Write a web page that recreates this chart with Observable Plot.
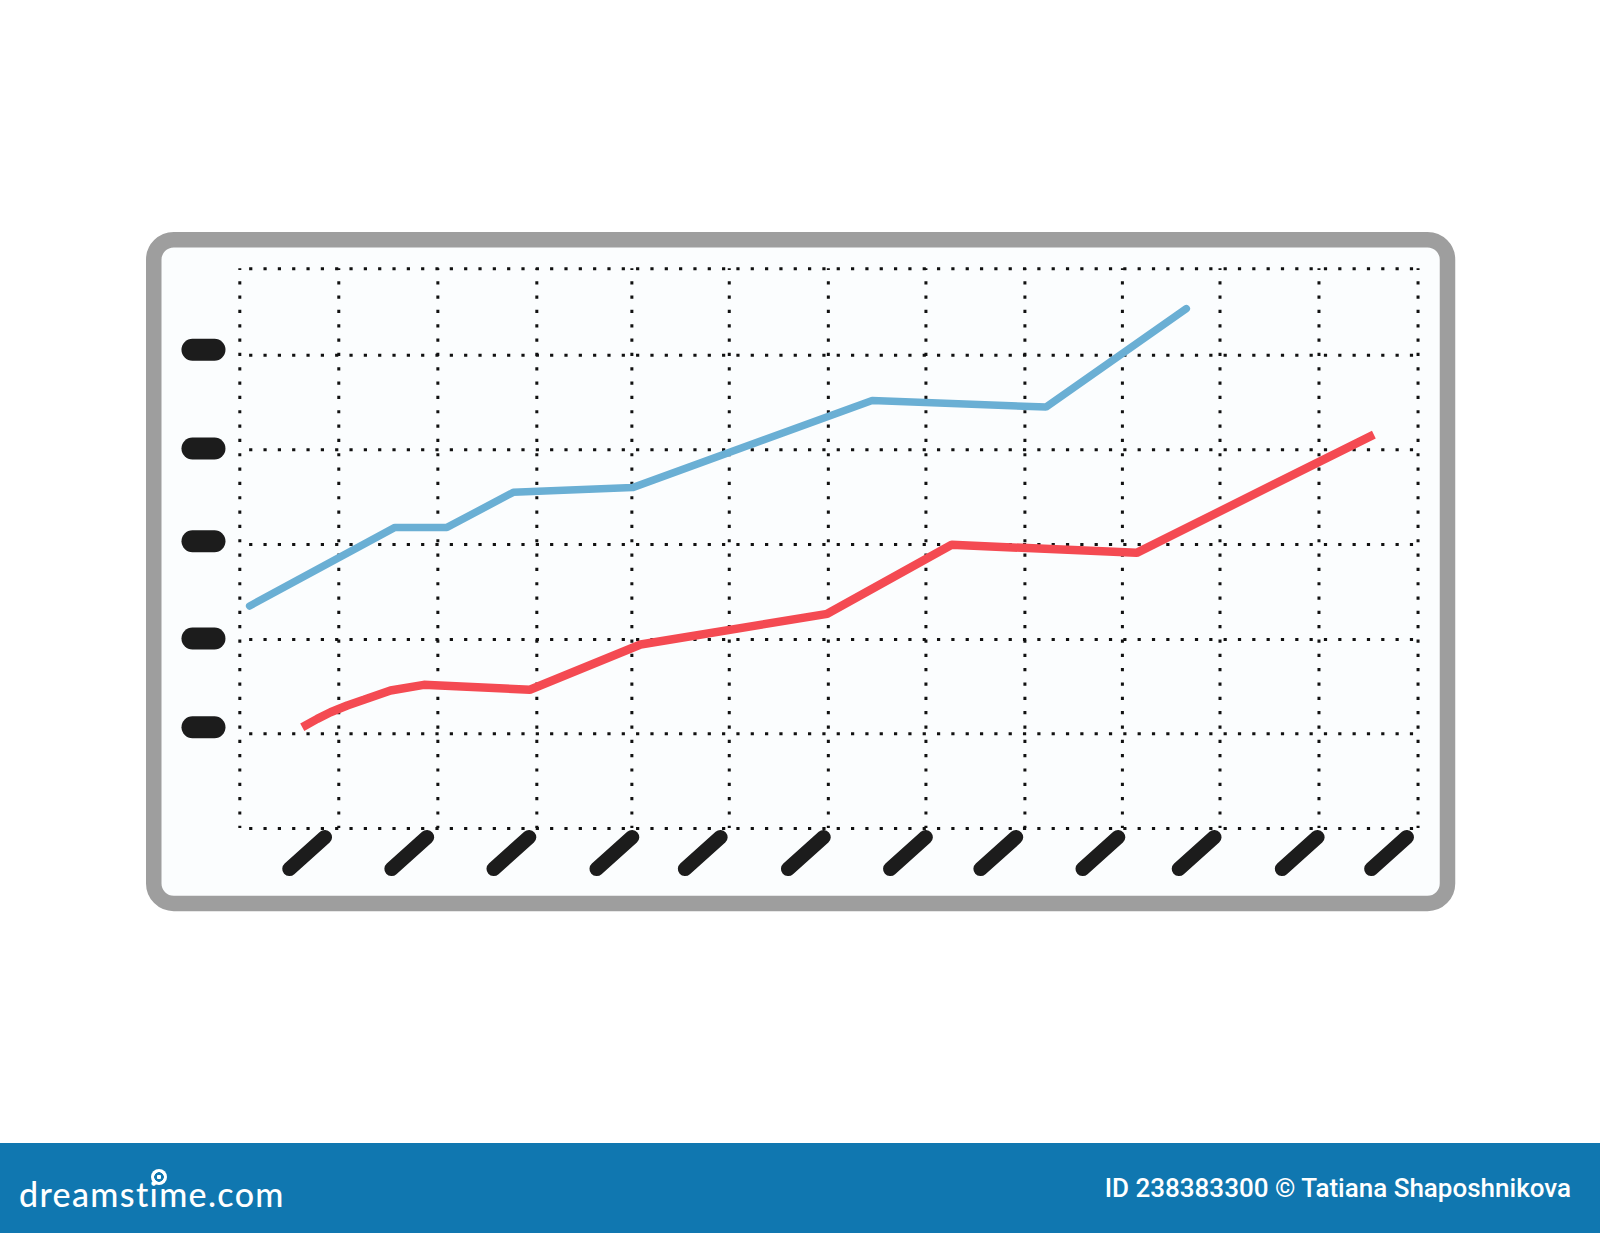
<!DOCTYPE html>
<html>
<head>
<meta charset="utf-8">
<script src="https://cdn.jsdelivr.net/npm/d3@7"></script>
<script src="https://cdn.jsdelivr.net/npm/@observablehq/plot@0.6"></script>
<style>
  html, body { margin: 0; padding: 0; background: #fff; width: 1600px; height: 1233px; overflow: hidden; }
  #chart svg { display: block; }
  #footer { position: relative; width: 1600px; height: 90px; background: #1077b0; color: #fff; }
  #brand { position: absolute; left: 19px; top: 31px; font: 500 34px/40px Lato, sans-serif; letter-spacing: 1.35px; }
  #swirl { position: absolute; left: 151px; top: 26px; width: 16px; height: 16px; border-radius: 50%;
    background: radial-gradient(circle, #fff 0 2px, transparent 2.5px 4.5px, #fff 5px 8px); }
  #credit { position: absolute; right: 29px; top: 29px; font: 500 26px/32px Roboto, sans-serif; }
</style>
</head>
<body>
<div id="chart"></div>
<div id="footer">
  <div id="brand">dreamstime.com</div>
  <div id="swirl"></div>
  <div id="credit">ID 238383300 © Tatiana Shaposhnikova</div>
</div>
<script>
const gridX = [0, 1.008, 2.017, 3.025, 3.993, 4.985, 5.994, 6.988, 7.996, 8.989, 9.983, 10.991, 12];
const gridY = [0, 1, 1.996, 3, 4, 4.998, 5.91];

const blueX = [0.10, 1.58, 2.11, 2.785, 4.00, 6.44, 8.21, 9.64];
const blueY = [2.35, 3.18, 3.18, 3.55, 3.60, 4.52, 4.45, 5.49];

const redX = [0.636, 0.789, 0.924, 1.094, 1.263, 1.535, 1.874, 2.954, 4.082, 5.983, 7.25, 9.134, 11.55];
const redY = [1.07, 1.158, 1.228, 1.299, 1.359, 1.457, 1.517, 1.465, 1.943, 2.267, 2.996, 2.911, 4.16];

const yLabelAt = [1.07, 2.006, 3.033, 4.013, 5.055];
const xLabelAt = [0.686, 1.726, 2.766, 3.815, 4.715, 5.765, 6.805, 7.725, 8.765, 9.745, 10.795, 11.705];

const xDomain = [-0.8765, 12.30];
const yDomain = [-0.792, 6.218];

const blue = blueX.map((x, i) => ({x, y: blueY[i]}));
const red = redX.map((x, i) => ({x, y: redY[i]}));

const dots = {stroke: "#111", strokeWidth: 3, strokeLinecap: "butt", strokeDasharray: "3.2,11.13"};

const plot = Plot.plot({
  width: 1600,
  height: 1143,
  marginLeft: 153.25,
  marginRight: 153,
  marginTop: 239.2,
  marginBottom: 240,
  x: {domain: xDomain, axis: null},
  y: {domain: yDomain, axis: null},
  marks: [
    Plot.frame({fill: "#fbfdfe", stroke: "#9e9e9e", strokeWidth: 15.5, rx: 20}),
    Plot.ruleY(gridY, {x1: gridX[0], x2: gridX[gridX.length - 1], ...dots, strokeDashoffset: 4.5}),
    Plot.ruleX(gridX, {y1: gridY[gridY.length - 1], y2: gridY[0], ...dots, strokeDashoffset: 1.5}),
    Plot.line(blue, {x: "x", y: "y", stroke: "#6aafd4", strokeWidth: 7.5, strokeLinecap: "round", strokeLinejoin: "miter"}),
    Plot.line(red, {x: "x", y: "y", stroke: "#f44a52", strokeWidth: 8.5, strokeLinecap: "butt", strokeLinejoin: "miter"}),
    Plot.link(yLabelAt, {x1: () => -0.482, x2: () => -0.258, y1: d => d, y2: d => d,
      stroke: "#1c1c1c", strokeWidth: 22, strokeLinecap: "round"}),
    Plot.link(xLabelAt, {x1: d => d - 0.18, x2: d => d + 0.18, y1: () => -0.4255, y2: () => -0.092,
      stroke: "#1c1c1c", strokeWidth: 14.5, strokeLinecap: "round"})
  ]
});
document.getElementById("chart").append(plot);
</script>
</body>
</html>
